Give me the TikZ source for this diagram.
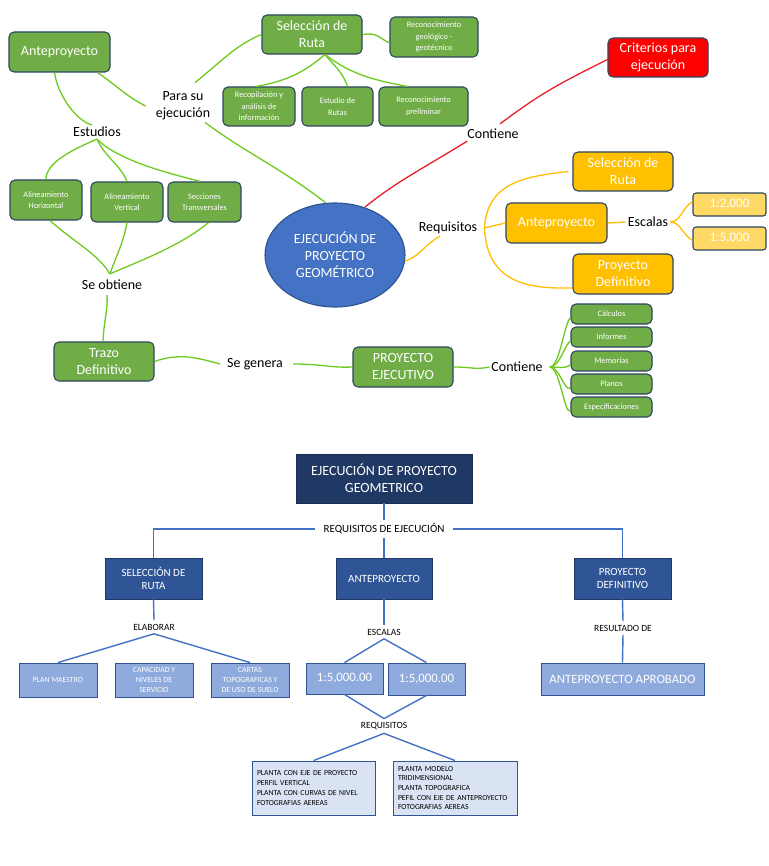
\documentclass[tikz,border=0pt]{standalone}
\usepackage{fontspec}
\setmainfont{Carlito}
\usetikzlibrary{shapes.geometric}
\newcommand\fsz[2]{\fontsize{#1}{#2}\selectfont}
\definecolor{grn}{HTML}{70AD47}
\definecolor{gbd}{HTML}{2E4660}
\definecolor{gln}{HTML}{6DCB1F}
\definecolor{org}{HTML}{FFC000}
\definecolor{lorg}{HTML}{FFD966}
\definecolor{rbox}{HTML}{FF0000}
\definecolor{rln}{HTML}{E8202A}
\definecolor{ellf}{HTML}{4472C4}
\definecolor{elld}{HTML}{2F528F}
\definecolor{navy}{HTML}{203864}
\definecolor{midb}{HTML}{2F5597}
\definecolor{litb}{HTML}{8FAADC}
\definecolor{pale}{HTML}{DAE3F3}
\definecolor{bln}{HTML}{4472C4}
\tikzset{
  sz/.style 2 args={minimum width=#1pt, minimum height=#2pt},
  gbox/.style={draw=gbd, fill=grn, rounded corners=5pt, line width=1.1pt, text=white, align=center, inner sep=0pt, font=\fsz{14}{17}},
  gsmall/.style={gbox, font=\fsz{8.3}{11.5}},
  obox/.style={gbox, fill=org},
  lobox/.style={gbox, fill=lorg, rounded corners=3pt, font=\fsz{13}{16}},
  rbx/.style={gbox, fill=rbox},
  lbl/.style={inner sep=2pt, align=center, text=black, font=\fsz{14}{17}},
  glink/.style={draw=gln, line width=1.3pt},
  olink/.style={draw=org, line width=1.3pt},
  rlink/.style={draw=rln, line width=1.3pt},
  blink/.style={draw=bln, line width=1.4pt},
  tbox/.style={draw=navy!80!black, fill=navy, text=white, align=center, inner sep=0pt, line width=0.8pt, font=\fsz{14}{17}},
  mbox/.style={draw=navy, fill=midb, text=white, align=center, inner sep=0pt, line width=0.8pt, font=\fsz{11}{13.5}},
  lbox/.style={draw=midb, fill=litb, text=white, align=center, inner sep=0pt, line width=0.9pt, font=\fsz{7.8}{10}},
  lboxb/.style={lbox, font=\fsz{12.8}{15}},
  pbox/.style={draw=midb, fill=pale, text=black, align=left, inner sep=0pt, line width=0.9pt, font=\fsz{7.7}{9.7}},
  blbl/.style={inner xsep=4pt, inner ysep=3.5pt, text=black, font=\fsz{9.5}{11}},
}
\begin{document}
\begin{tikzpicture}[x=1pt,y=-1pt]
\useasboundingbox (0,0) rectangle (768,866);
\fill[white] (0,0) rectangle (768,866);

% ---------- top mind map: nodes ----------
\node[gbox,sz={101}{40}] (ante) at (59.5,52) {Anteproyecto};
\node[gbox,sz={100}{39}] (selr) at (312,34.5) {Selección de\\Ruta};
\node[gsmall,sz={88}{40}] (recg) at (434,37) {Reconocimiento\\geológico -\\geotécnico};
\node[gsmall,sz={72}{39}] (recop) at (259,106.5) {Recopilación y\\análisis de\\información};
\node[gsmall,sz={71}{39}] (estr) at (337.5,106.5) {Estudio de\\Rutas};
\node[gsmall,sz={89}{39}] (recp) at (423.5,106.5) {Reconocimiento\\preliminar};
\node[gsmall,sz={72}{40}] (ah) at (46,200) {Alineamiento\\Horizontal};
\node[gsmall,sz={72}{40}] (av) at (127,202) {Alineamiento\\Vertical};
\node[gsmall,sz={73}{40}] (st) at (204.5,202) {Secciones\\Transversales};
\node[gbox,sz={100}{39}] (trazo) at (104,361.5) {Trazo\\Definitivo};
\node[gbox,sz={100}{40}] (pe) at (403,367) {PROYECTO\\EJECUTIVO};
\node[gsmall,sz={81}{20}] (calc) at (611.5,314) {Cálculos};
\node[gsmall,sz={81}{20}] (info) at (611.5,337) {Informes};
\node[gsmall,sz={81}{20}] (memo) at (611.5,361) {Memorias};
\node[gsmall,sz={81}{20}] (plan) at (611.5,384) {Planos};
\node[gsmall,sz={81}{20}] (espe) at (611.5,407) {Especificaciones};

\node[lbl] (para) at (183,106) {Para su\\ejecución};
\node[lbl] (estu) at (97,132) {Estudios};
\node[lbl] (seob) at (112,285) {Se obtiene};
\node[lbl] (segen) at (255,364) {Se genera};
\node[lbl] (cont2) at (517,367) {Contiene};
\node[lbl] (cont1) at (493,134) {Contiene};
\node[lbl] (requ) at (448,228) {Requisitos};
\node[lbl] (esca) at (648,222) {Escalas};

\node[ellipse, draw=elld, fill=ellf, line width=1.1pt, minimum width=140pt, minimum height=104pt, inner sep=0pt, text=white, align=center, font=\fsz{14}{17}] (ell) at (335,255) {EJECUCIÓN DE\\PROYECTO\\GEOMÉTRICO};

\node[obox,sz={100}{39}] (oselr) at (623,171.5) {Selección de\\Ruta};
\node[obox,sz={101}{40}] (oante) at (556.5,223) {Anteproyecto};
\node[obox,sz={100}{40}] (opd) at (623,274) {Proyecto\\Definitivo};
\node[lobox,sz={73}{23}] (s2k) at (729.5,204.5) {1:2,000};
\node[lobox,sz={73}{23}] (s5k) at (729.5,238.5) {1:5,000};
\node[rbx,sz={100}{39}] (crit) at (658,57.5) {Criterios para\\ejecución};

% ---------- top mind map: connectors ----------
\draw[glink] ([xshift=-5pt]ante.south) .. controls +(3,22) and +(-16,-4) .. ([xshift=-5pt]estu.north);
\draw[glink] ([xshift=38pt]ante.south) .. controls +(18,12) and +(-20,-10) .. ([xshift=-8pt]para.west);
\draw[glink] ([xshift=12pt,yshift=7pt]para.north) .. controls +(25,-20) and +(-25,10) .. (selr.west);
\draw[glink] ([xshift=22pt]para.south) .. controls +(40,30) and +(-45,-35) .. (ell.100);
\draw[glink] ([xshift=13pt]selr.south) .. controls +(-18,15) and +(35,-6) .. ([xshift=-3pt]recop.north);
\draw[glink] ([xshift=13pt]selr.south) .. controls +(8,10) and +(-5,-15) .. ([xshift=10pt]estr.north);
\draw[glink] ([xshift=13pt]selr.south) .. controls +(20,15) and +(-45,-8) .. ([xshift=-16pt]recp.north);
\draw[glink] (selr.east) .. controls +(15,-2) and +(-12,-6) .. ([yshift=-6pt]recg.west);
\draw[glink] (estu.south) .. controls +(-28,12) and +(0,-16) .. (ah.north);
\draw[glink] (estu.south) .. controls +(8,18) and +(-6,-16) .. (av.north);
\draw[glink] (estu.south) .. controls +(20,20) and +(-40,-10) .. ([xshift=-4pt]st.north);
\draw[glink] ([xshift=4pt]ah.south) .. controls +(22,20) and +(-12,-20) .. ([xshift=-2pt,yshift=4pt]seob.north);
\draw[glink] (av.south) .. controls +(-4,22) and +(6,-18) .. ([xshift=-2pt,yshift=4pt]seob.north);
\draw[glink] ([xshift=4pt]st.south) .. controls +(-30,25) and +(22,-10) .. ([xshift=-2pt,yshift=4pt]seob.north);
\draw[glink] ([xshift=-5pt,yshift=-3pt]seob.south) .. controls +(1,16) and +(1,-22) .. ([xshift=-1pt]trazo.north);
\draw[glink] (trazo.east) .. controls +(25,-9) and +(-22,-6) .. ([xshift=-5pt]segen.west);
\draw[glink] ([xshift=8pt]segen.east) .. controls +(30,0) and +(-22,1) .. (pe.west);
\draw[glink] (pe.east) .. controls +(20,0) and +(-15,3) .. (cont2.west);
\foreach \b in {calc,info,memo,plan,espe}{
  \draw[glink] ([xshift=5pt]cont2.east) .. controls +(10,0) and +(-6,4) .. ([yshift=-4pt]\b.west);
}
\draw[rlink] (ell.58) .. controls +(30,-25) and +(-40,25) .. ([xshift=2pt]cont1.south west);
\draw[rlink] ([xshift=7pt,yshift=3pt]cont1.north) .. controls +(40,-30) and +(-50,25) .. ([yshift=-2pt]crit.west);
\draw[olink] (ell.-5) .. controls +(15,-5) and +(-15,8) .. ([xshift=-8pt]requ.south);
\draw[olink] ([xshift=5pt]requ.east) .. controls +(3,-45) and +(-45,5) .. ([xshift=-4pt]oselr.west);
\draw[olink] ([xshift=5pt]requ.east) -- (oante.west);
\draw[olink] ([xshift=5pt]requ.east) .. controls +(3,55) and +(-45,1) .. ([yshift=-14pt]opd.west);
\draw[olink] (oante.east) -- (esca.west);
\draw[olink] (esca.east) .. controls +(10,0) and +(-10,6) .. ([yshift=3pt]s2k.west);
\draw[olink] (esca.east) .. controls +(10,0) and +(-10,-6) .. ([yshift=-2pt]s5k.west);

% ---------- bottom tree ----------
\node[tbox,sz={176}{49}] (title) at (384,478.5) {EJECUCIÓN DE PROYECTO\\GEOMETRICO};
\node[blbl,inner xsep=8pt,font=\fsz{11}{12}] (reqej) at (384,529) {REQUISITOS DE EJECUCIÓN};
\node[mbox,sz={97}{41}] (bsr) at (153.5,578.5) {SELECCIÓN DE\\RUTA};
\node[mbox,sz={96}{41}] (bante) at (384,578.5) {ANTEPROYECTO};
\node[mbox,sz={97}{41}] (bpd) at (622.5,578.5) {PROYECTO\\DEFINITIVO};
\node[blbl] (elab) at (154,627) {ELABORAR};
\node[blbl] (escb) at (384,632) {ESCALAS};
\node[blbl] (resd) at (623,628) {RESULTADO DE};
\node[lbox,sz={78}{34}] (pm) at (58,680) {PLAN MAESTRO};
\node[lbox,sz={78}{34}] (cap) at (154,680) {CAPACIDAD Y\\NIVELES DE\\SERVICIO};
\node[lbox,sz={78}{34}] (cart) at (250,680) {CARTAS\\TOPOGRAFICAS Y\\DE USO DE SUELO};
\node[lboxb,sz={77}{31}] (e1) at (344.5,678.5) {1:5,000.00};
\node[lboxb,sz={77}{32}] (e2) at (426.5,679) {1:5,000.00};
\node[lboxb,sz={163}{32}] (aa) at (622.5,679) {ANTEPROYECTO APROBADO};
\node[blbl] (reqb) at (384,726) {REQUISITOS};
\node[pbox,sz={123}{54},text width=113pt] (lb) at (313.5,788) {PLANTA CON EJE DE PROYECTO\\PERFIL VERTICAL\\PLANTA CON CURVAS DE NIVEL\\FOTOGRAFIAS AEREAS};
\node[pbox,sz={124}{54},text width=114pt] (rb) at (455,788) {PLANTA MODELO\\TRIDIMENSIONAL\\PLANTA TOPOGRAFICA\\PEFIL CON EJE DE ANTEPROYECTO\\FOTOGRAFIAS AEREAS};

\draw[blink] (title.south) -- (reqej.north);
\draw[blink] (reqej.west) -| (bsr.north);
\draw[blink] (reqej.east) -| (bpd.north);
\draw[blink] (reqej.south) -- (bante.north);
\draw[blink] (bsr.south) -- (elab.north);
\draw[blink] (elab.south) -- (pm.north);
\draw[blink] (elab.south) -- (cart.north);
\draw[blink] (bante.south) -- (escb.north);
\draw[blink] (escb.south) -- (e1.north);
\draw[blink] (escb.south) -- (e2.north);
\draw[blink] (e1.south) -- (reqb.north);
\draw[blink] (e2.south) -- (reqb.north);
\draw[blink] (reqb.south) -- (lb.north);
\draw[blink] (reqb.south) -- (rb.north);
\draw[blink] (bpd.south) -- (resd.north);
\draw[blink] (resd.south) -- (aa.north);
\end{tikzpicture}
\end{document}
